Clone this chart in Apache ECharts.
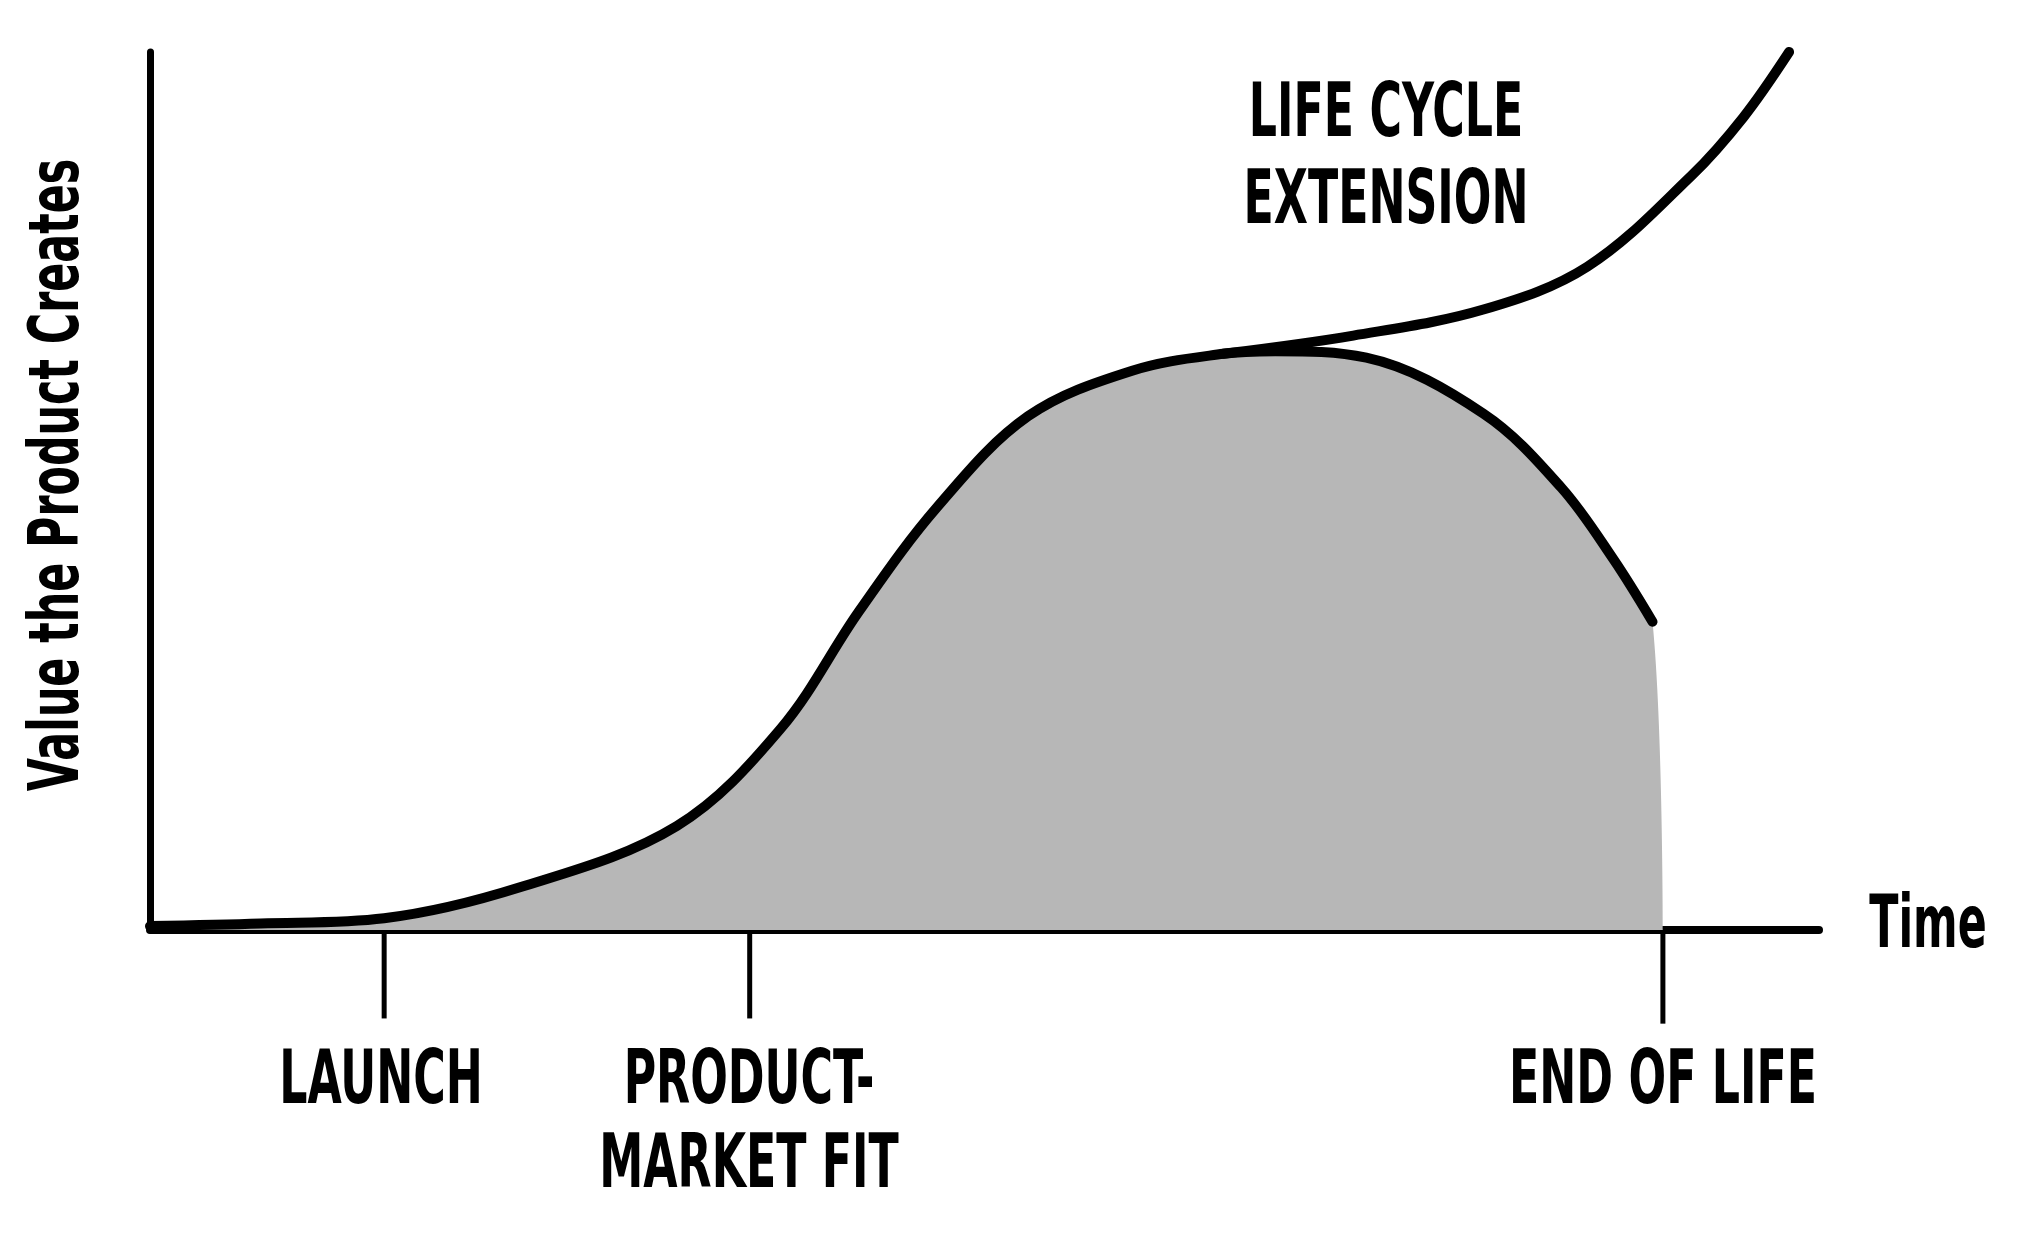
<!DOCTYPE html>
<html>
<head>
<meta charset="utf-8">
<script src="https://cdn.jsdelivr.net/npm/echarts@6/dist/echarts.min.js"></script>
<style>html,body{margin:0;padding:0;background:#fff}#main{width:2030px;height:1255px}</style>
</head>
<body>
<div id="main"></div>
<script>
// product life cycle sketch, values in arbitrary units
const lifeCurve = [[0, 3], [85, 5], [180, 9], [285, 33], [405, 80], [485, 155], [545, 245], [605, 325],
  [675, 395], [755, 430], [825, 443], [865, 445], [935, 440], [1025, 397], [1085, 340], [1125, 285], [1155, 237]];
const fillEnd = [[1163, 0]];
const extensionCurve = [[825, 443], [925, 457], [1025, 477], [1105, 510], [1185, 580], [1225, 625], [1260, 675]];
const milestones = [180, 461, 1163];
const tickDepth = [-68, -68, -72];

const FONT = "'Liberation Sans Narrow', 'DejaVu Sans Condensed', 'Roboto', sans-serif";
const chart = echarts.init(document.getElementById('main'));

function txt(text, x, y, size, extra) {
  return Object.assign({
    type: 'text', x, y, scaleX: 0.82, scaleY: 1.25,
    style: { text, fill: '#000', font: `bold ${size}px ${FONT}`, textAlign: 'center', textVerticalAlign: 'middle' },
  }, extra || {});
}

const tickSeries = milestones.map((x, i) => ({
  type: 'line', clip: false, symbol: 'none', silent: true,
  lineStyle: { color: '#000', width: 5 },
  data: [[x, 0], [x, tickDepth[i]]],
}));

chart.setOption({
  animation: false,
  grid: { left: 150, right: 211, top: 52, bottom: 325 },
  xAxis: {
    type: 'value', min: 0, max: 1283,
    axisLine: { show: true, lineStyle: { color: '#000', width: 8 } },
    axisTick: { show: false }, axisLabel: { show: false }, splitLine: { show: false },
  },
  yAxis: {
    type: 'value', min: 0, max: 675,
    axisLine: { show: true, lineStyle: { color: '#000', width: 7 } },
    axisTick: { show: false }, axisLabel: { show: false }, splitLine: { show: false },
  },
  series: [
    {
      type: 'line', smooth: 0.35, symbol: 'none', silent: true,
      lineStyle: { width: 0 },
      areaStyle: { color: '#b7b7b7', opacity: 1 },
      data: lifeCurve.concat(fillEnd),
    },
    {
      type: 'line', smooth: 0.35, symbol: 'none', silent: true, z: 3,
      lineStyle: { color: '#000', width: 10, cap: 'round' },
      data: lifeCurve,
    },
    {
      type: 'line', smooth: 0.35, symbol: 'none', silent: true, z: 3, clip: false,
      lineStyle: { color: '#000', width: 10, cap: 'round' },
      data: extensionCurve,
    },
    ...tickSeries,
  ],
  graphic: [
    txt('Value the Product Creates', 60, 475, 58, { rotation: Math.PI / 2, scaleX: 0.82, scaleY: 1.2 }),
    txt('Time', 1928, 928, 58),
    txt('LAUNCH', 381, 1084, 60),
    txt('PRODUCT-', 749, 1084, 60),
    txt('MARKET FIT', 749, 1168, 60),
    txt('END OF LIFE', 1663, 1084, 60),
    txt('LIFE CYCLE', 1386, 117, 60),
    txt('EXTENSION', 1386, 204, 60),
  ],
});
</script>
</body>
</html>
